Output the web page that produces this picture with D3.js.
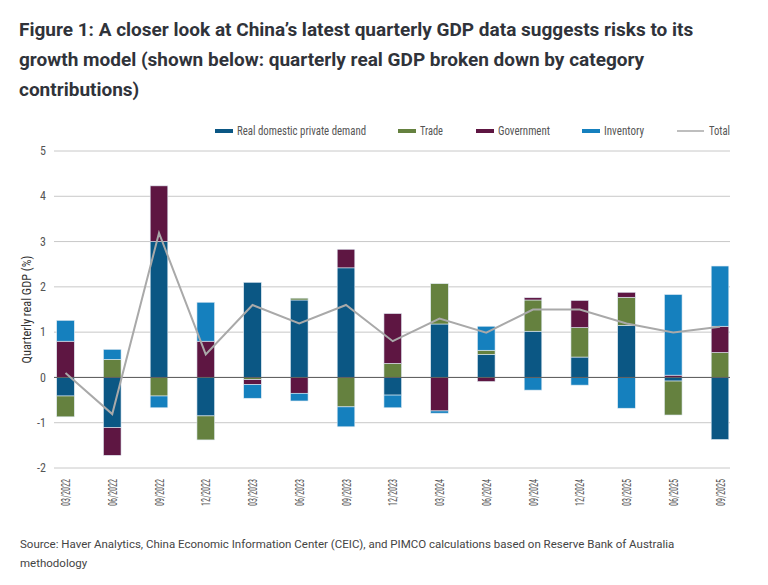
<!DOCTYPE html>
<html>
<head>
<meta charset="utf-8">
<script src="https://cdn.jsdelivr.net/npm/d3@7"></script>
<style>
  body { margin: 0; background: #fff; }
  .title { font-family: Roboto, "Noto Sans", sans-serif; font-weight: 700; font-size: 19px; fill: #30333a; }
  .source { font-family: Roboto, "Noto Sans", sans-serif; font-size: 11.5px; fill: #444; }
  .cond { font-family: "Roboto Condensed", "Liberation Sans Narrow", "DejaVu Sans Condensed", sans-serif; fill: #555; }
</style>
</head>
<body>
<svg id="chart" width="768" height="585"></svg>
<script>
// quarters and contributions (percentage points)
var quarters = ["03/2022", "06/2022", "09/2022", "12/2022", "03/2023", "06/2023", "09/2023", "12/2023",
                "03/2024", "06/2024", "09/2024", "12/2024", "03/2025", "06/2025", "09/2025"];
var privateDemand = [-0.41, -1.11, 3.00, -0.85, 2.10, 1.71, 2.42, -0.39, 1.18, 0.51, 1.02, 0.45, 1.15, -0.08, -1.37];
var trade         = [-0.46, 0.40, -0.41, -0.53, -0.05, 0.04, -0.65, 0.31, 0.89, 0.09, 0.69, 0.65, 0.62, -0.75, 0.55];
var government    = [0.80, -0.61, 1.23, 0.80, -0.11, -0.35, 0.41, 1.10, -0.74, -0.09, 0.05, 0.60, 0.11, 0.05, 0.58];
var inventory     = [0.46, 0.22, -0.26, 0.86, -0.30, -0.17, -0.44, -0.28, -0.05, 0.53, -0.28, -0.17, -0.68, 1.78, 1.33];
var total         = [0.10, -0.81, 3.19, 0.51, 1.60, 1.19, 1.60, 0.80, 1.30, 0.99, 1.50, 1.50, 1.19, 0.99, 1.12];
var yTicks = [-2, -1, 0, 1, 2, 3, 4, 5];

var seriesNames = ["Real domestic private demand", "Trade", "Government", "Inventory"];
var seriesKeys = ["priv", "trade", "gov", "inv"];
var colors = { priv: "#0b5784", trade: "#65813f", gov: "#5e1642", inv: "#1580be" };

var data = quarters.map(function (q, i) {
    return { q: q, priv: privateDemand[i], trade: trade[i], gov: government[i], inv: inventory[i], total: total[i] };
});

var svg = d3.select("#chart");

// title
var titleLines = ["Figure 1: A closer look at China\u2019s latest quarterly GDP data suggests risks to its",
                  "growth model (shown below: quarterly real GDP broken down by category",
                  "contributions)"];
svg.selectAll(".title").data(titleLines).enter().append("text")
    .attr("class", "title")
    .attr("x", 19)
    .attr("y", function (d, i) { return 36 + i * 30; })
    .text(function (d) { return d; });

// scales
var x = d3.scalePoint().domain(quarters).range([65.5, 720]);
var y = d3.scaleLinear().domain([-2, 5]).range([468, 151]);
var barW = 17.6;
var gridX0 = 54, gridX1 = 730;

// gridlines
svg.append("g").selectAll("line").data(yTicks).enter().append("line")
    .attr("x1", gridX0).attr("x2", gridX1)
    .attr("y1", function (d) { return y(d); })
    .attr("y2", function (d) { return y(d); })
    .attr("stroke", "#c8c8c8")
    .attr("stroke-width", 1);

// y tick labels
svg.append("g").selectAll("text").data(yTicks).enter().append("text")
    .attr("class", "cond")
    .attr("x", 46)
    .attr("y", function (d) { return y(d); })
    .attr("dy", "0.35em")
    .attr("text-anchor", "end")
    .attr("font-size", 12)
    .text(function (d) { return d; });

// y axis title
svg.append("text")
    .attr("class", "cond")
    .attr("transform", "translate(31," + ((y(5) + y(-2)) / 2) + ") rotate(-90)")
    .attr("text-anchor", "middle")
    .attr("font-size", 12)
    .attr("textLength", 108)
    .attr("lengthAdjust", "spacingAndGlyphs")
    .style("fill", "#333")
    .text("Quarterly real GDP (%)");

// stacked bars (positive and negative stacked separately)
var stack = d3.stack().keys(seriesKeys).offset(d3.stackOffsetDiverging);
var layers = stack(data);

svg.append("g").selectAll("g").data(layers).enter().append("g")
    .attr("fill", function (d) { return colors[d.key]; })
    .selectAll("rect").data(function (d) { return d; }).enter().append("rect")
    .attr("x", function (d) { return x(d.data.q) - barW / 2; })
    .attr("width", barW)
    .attr("y", function (d) { return y(Math.max(d[0], d[1])); })
    .attr("height", function (d) { return Math.abs(y(d[0]) - y(d[1])); })
    .attr("stroke", "#dfe9f2")
    .attr("stroke-width", 0.6);

// zero line
svg.append("line")
    .attr("x1", gridX0).attr("x2", gridX1)
    .attr("y1", y(0)).attr("y2", y(0))
    .attr("stroke", "#5a5a5a")
    .attr("stroke-width", 1);

// total line
var line = d3.line()
    .x(function (d) { return x(d.q); })
    .y(function (d) { return y(d.total); });
svg.append("path")
    .datum(data)
    .attr("d", line)
    .attr("fill", "none")
    .attr("stroke", "#a9a9a9")
    .attr("stroke-width", 2);

// x labels (rotated, condensed)
svg.append("g").selectAll("text").data(quarters).enter().append("text")
    .attr("class", "cond")
    .attr("transform", function (d) { return "translate(" + x(d) + ",479) rotate(-90)"; })
    .attr("text-anchor", "end")
    .attr("dy", "0.36em")
    .attr("font-size", 13)
    .attr("textLength", 27)
    .attr("lengthAdjust", "spacingAndGlyphs")
    .text(function (d) { return d; });

// legend
var legendItems = [
    { name: seriesNames[0], key: "priv", x: 215, w: 129 },
    { name: seriesNames[1], key: "trade", x: 398, w: 23 },
    { name: seriesNames[2], key: "gov", x: 476, w: 52 },
    { name: seriesNames[3], key: "inv", x: 582, w: 40 }
];
var legend = svg.append("g");
legendItems.forEach(function (it) {
    legend.append("rect")
        .attr("x", it.x).attr("y", 129)
        .attr("width", 18).attr("height", 4)
        .attr("fill", colors[it.key]);
    legend.append("text")
        .attr("class", "cond")
        .attr("x", it.x + 22).attr("y", 131)
        .attr("dy", "0.35em")
        .attr("font-size", 12.5)
        .attr("textLength", it.w)
        .attr("lengthAdjust", "spacingAndGlyphs")
        .text(it.name);
});
legend.append("line")
    .attr("x1", 677).attr("x2", 704)
    .attr("y1", 131).attr("y2", 131)
    .attr("stroke", "#a9a9a9").attr("stroke-width", 1.5);
legend.append("text")
    .attr("class", "cond")
    .attr("x", 709).attr("y", 131)
    .attr("dy", "0.35em")
    .attr("font-size", 12.5)
    .attr("textLength", 21)
    .attr("lengthAdjust", "spacingAndGlyphs")
    .text("Total");

// source
var sourceLines = ["Source: Haver Analytics, China Economic Information Center (CEIC), and PIMCO calculations based on Reserve Bank of Australia",
                   "methodology"];
svg.selectAll(".source").data(sourceLines).enter().append("text")
    .attr("class", "source")
    .attr("x", 20)
    .attr("y", function (d, i) { return 548 + i * 19; })
    .text(function (d) { return d; });
</script>
</body>
</html>
